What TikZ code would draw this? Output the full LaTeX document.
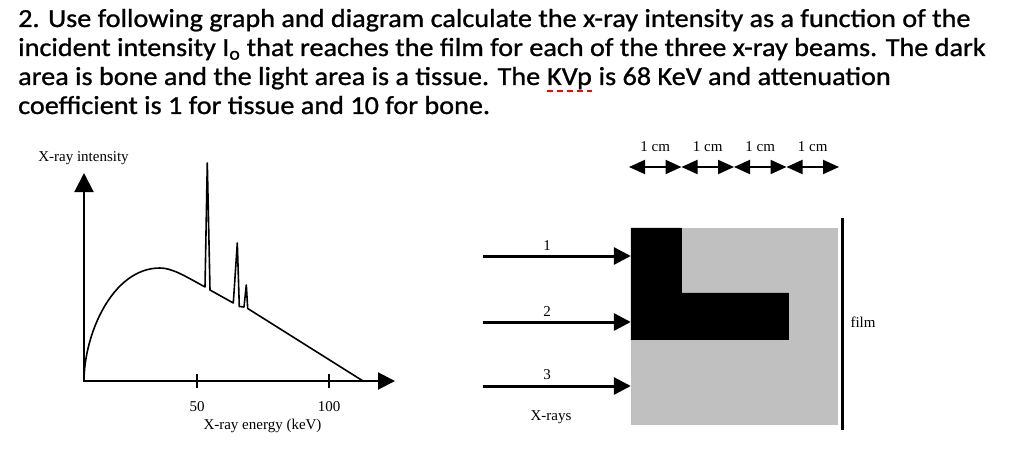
\documentclass[tikz,border=0pt]{standalone}
\usepackage{fontspec}
\setmainfont{Liberation Serif}
\newfontfamily\qfont[FakeStretch=1.085, FakeBold=1]{Carlito}
\usetikzlibrary{arrows.meta, positioning}
\definecolor{tissuegray}{RGB}{192,192,192}

\tikzset{
  qtext/.style={font=\qfont\fontsize{26}{29}\selectfont, inner sep=0pt, anchor=base west},
  lbl/.style={font=\fontsize{15}{18}\selectfont, inner sep=0pt, anchor=base},
  axisline/.style={line width=2pt, {Triangle[length=19pt, width=19pt]}-{Triangle[length=17pt, width=17pt]}},
  ray/.style={line width=3pt, -{Triangle[length=17pt, width=17pt]}},
  dimline/.style={line width=2pt, {Triangle[length=16pt, width=14pt]}-{Triangle[length=16pt, width=14pt]}},
  spell/.style={red, line width=2pt, dash pattern=on 6pt off 4pt},
}

\begin{document}
\begin{tikzpicture}[x=1pt, y=-1pt]
  \useasboundingbox[fill=white] (0,0) rectangle (1024,465);

  % Question text
  \node[qtext] (q1) at (18,27) {2. Use following graph and diagram calculate the x-ray intensity as a function of the};
  \node[qtext] (q2) at (18,56) {incident intensity I\textsubscript{o} that reaches the film for each of the three x-ray beams. The dark};
  \node[qtext] (q3) at (18,85) {area is bone and the light area is a tissue. The\ \mbox{}};
  \node[qtext] (kvp) at (q3.base east) {KVp};
  \node[qtext] (q3b) at (kvp.base east) {\ is 68 KeV and attenuation};
  \node[qtext] (q4) at (18,114) {coefficient is 1 for tissue and 10 for bone.};
  \draw[spell] ([yshift=-6pt]kvp.base west) -- ([yshift=-6pt]kvp.base east);

  % Draw the spectrum axes
  \coordinate (origin) at (84,381);
  \coordinate (ytip) at (84,173);
  \coordinate (xtip) at (395,381);
  \draw[axisline] (ytip) -- (origin) -- (xtip);
  \foreach \x/\v in {197/50, 329/100} {
    \draw[line width=1.5pt] (\x,374) -- (\x,388);
    \node[lbl] (tick\v) at (\x,411.5) {\v};
  }
  \node[lbl] (xlabel) at (262.5,429) {X-ray energy (keV)};
  \node[lbl] (ylabel) at (83.5,161.5) {X-ray intensity};

  % Draw the spectrum with its peaks
  \draw[line width=1.6pt, line join=round]
    (origin) .. controls (84,335) and (112,268) .. (160,268)
    .. controls (172,268) and (185,276) .. (205,287)
    -- (207.3,163) -- (210,290) -- (233.3,303) -- (237.3,243) -- (239.3,306.5)
    -- (244,307) -- (246.3,285) -- (247.7,308.5) -- (363,381);

  % Draw the tissue block and the bone
  \node[fill=tissuegray, minimum width=207pt, minimum height=197pt, inner sep=0pt] (tissue) at (734.5,326.5) {};
  \fill (tissue.north west) -- ++(51,0) -- ++(0,65) -- ++(107,0) -- ++(0,47) -- ++(-158,0) -- cycle;

  % Draw the film
  \coordinate (filmtop) at (842,218);
  \coordinate (filmbot) at (842,430);
  \draw[line width=3pt] (filmtop) -- (filmbot);
  \node[lbl] (film) at (863,327) {film};

  % Draw the x-ray beams
  \foreach \n/\y/\ly in {1/256/250, 2/322/316.5, 3/386/379} {
    \coordinate (src\n) at (483,\y);
    \draw[ray] (src\n) -- (src\n -| tissue.west);
    \node[lbl] (beam\n) at (547,\ly) {\n};
  }
  \node[lbl] (xrays) at (551,420) {X-rays};

  % Draw the scale arrows
  \foreach \i in {0,...,4}
    \coordinate (d\i) at (629+52.5*\i,167);
  \foreach \a/\b in {0/1,1/2,2/3,3/4}
    \draw[dimline] (d\a) -- (d\b) node[lbl, midway, yshift=15pt] {1 cm};
\end{tikzpicture}
\end{document}
